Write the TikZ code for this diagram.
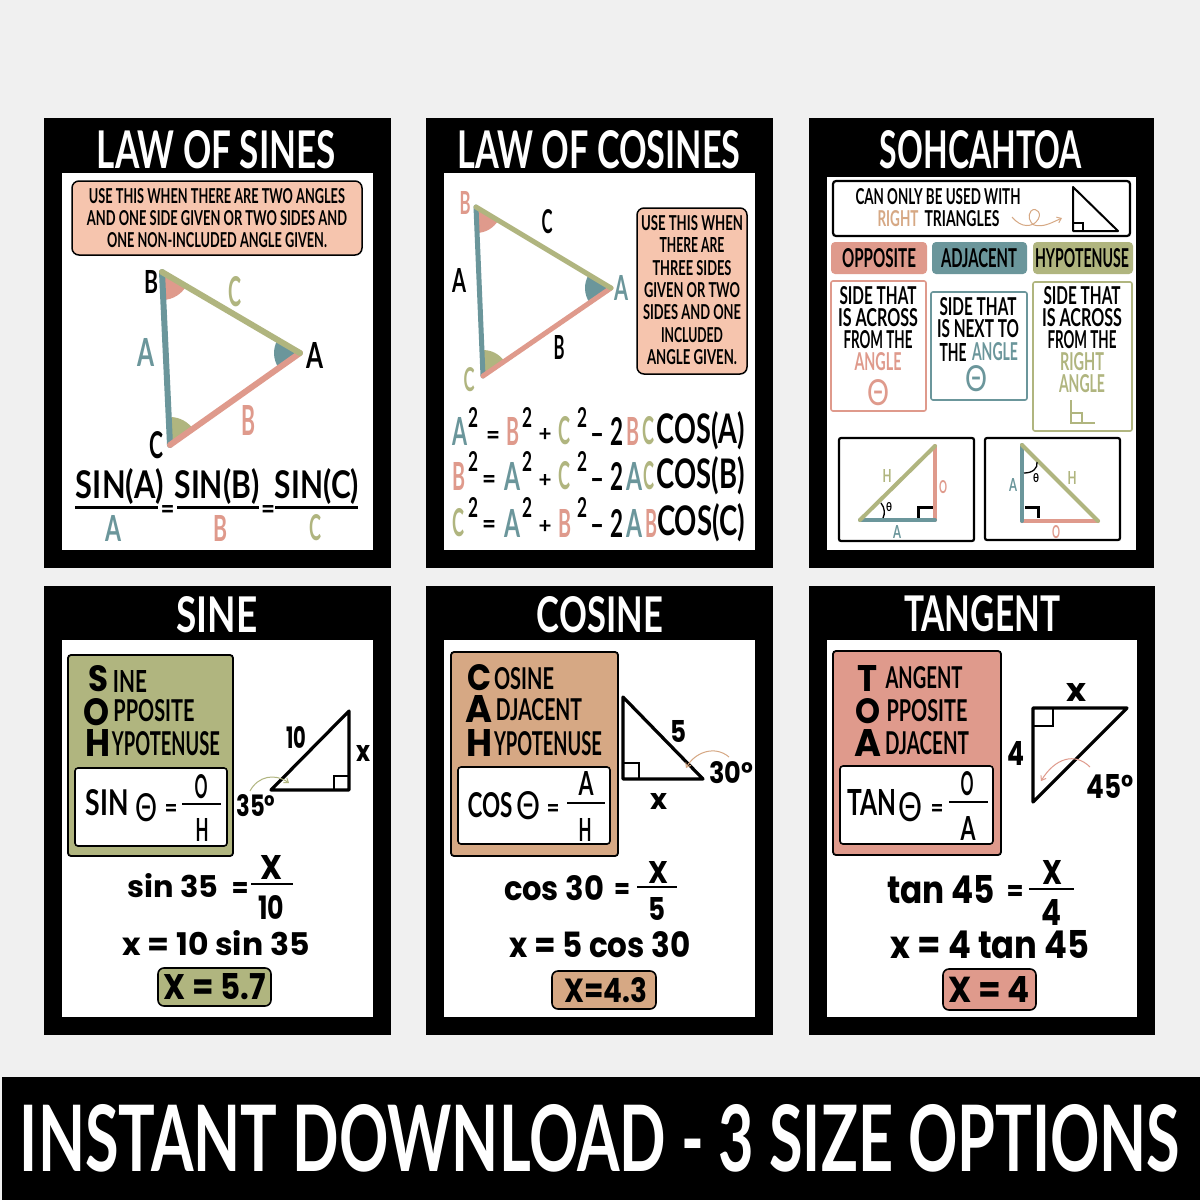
\documentclass[tikz,border=0pt]{standalone}
\usepackage{fontspec}
\usepackage{graphicx}
\usetikzlibrary{arrows.meta}
\setmainfont{Lato}
\newfontfamily\popf{Poppins}
\definecolor{teal1}{HTML}{6B969B}
\definecolor{rose1}{HTML}{DF9A8C}
\definecolor{olive1}{HTML}{B0B57F}
\definecolor{tan1}{HTML}{D6A884}
\definecolor{peach1}{HTML}{F6C5AE}
\definecolor{bgc}{HTML}{F0F0F0}
\tikzset{
  txt/.style={inner sep=0pt,outer sep=0pt,anchor=center},
  panel/.style={fill=black},
  sheet/.style={fill=white},
  callout/.style={draw=black,line width=1.5pt,rounded corners=7pt},
  framebox/.style={draw=black,line width=2.2pt,rounded corners=3pt},
  hdr/.style={rounded corners=4pt},
  outl/.style={line width=1.6pt,rounded corners=2pt,fill=white},
  card/.style={draw=black,line width=1.8pt,rounded corners=3pt},
  inner/.style={draw=black,line width=1.6pt,rounded corners=3pt,fill=white},
  pill/.style={draw=black,line width=1.6pt,rounded corners=6pt},
  side/.style={line width=#1,line cap=round},
  tri/.style={draw=black,line width=3.2pt,line join=round,line cap=round},
  frac/.style={draw=black,line width=2pt},
  swirl/.style={line width=1pt,-{Straight Barb[length=4pt,width=6pt]}},
}
\newcommand\Tx[7][black]{\node[txt,text=#1] (#2) at (#3,#4) {\resizebox{#5pt}{#6pt}{\bfseries #7}};}
\newcommand\Tb[7][black]{\node[txt,text=#1] (#2) at (#3,#4) {\resizebox{#5pt}{#6pt}{\bfseries #7}};}
\newcommand\Tp[7][black]{\node[txt,text=#1] (#2) at (#3,#4) {\resizebox{#5pt}{#6pt}{\popf\bfseries #7}};}
\newcommand\Wdg[5]{\fill[#5] (#1) -- ++(#2:#3) arc[start angle=#2,end angle=#4,radius=#3] -- cycle;}
\begin{document}
\begin{tikzpicture}[x=1pt,y=-1pt]
\useasboundingbox (0,0) rectangle (1200,1200);
\fill[bgc] (0,0) rectangle (1200,1200);
% black panels and white sheets
\fill[panel] (44,118) rectangle (391,568);
\fill[sheet] (62,173) rectangle (373,550);
\fill[panel] (426,118) rectangle (773,568);
\fill[sheet] (444,173) rectangle (755,550);
\fill[panel] (809,118) rectangle (1154,568);
\fill[sheet] (827,177) rectangle (1136,550);
\fill[panel] (44,586) rectangle (391,1035);
\fill[sheet] (62,640) rectangle (373,1017);
\fill[panel] (426,586) rectangle (773,1035);
\fill[sheet] (444,640) rectangle (755,1017);
\fill[panel] (809,586) rectangle (1155,1035);
\fill[sheet] (827,640) rectangle (1137,1017);
\fill[panel] (2,1077) rectangle (1200,1200);
\Tb[white]{banner}{600}{1138}{1160}{67}{INSTANT DOWNLOAD - 3 SIZE OPTIONS}
% titles
\Tb[white]{t1}{216.5}{150}{239}{38}{LAW OF SINES}
\Tb[white]{t2}{599}{150}{283}{38}{LAW OF COSINES}
\Tb[white]{t3}{981}{150}{202}{38}{SOHCAHTOA}
\Tb[white]{t4}{217}{615}{81}{36}{SINE}
\Tb[white]{t5}{600}{615}{126}{36}{COSINE}
\Tb[white]{t6}{982}{614}{156}{36}{TANGENT}

% ---------- LAW OF SINES
\draw[callout,fill=peach1] (72,181) rectangle (362,255);
\Tx{s1}{217}{196}{256}{15}{USE THIS WHEN THERE ARE TWO ANGLES}
\Tx{s2}{217}{218}{260}{15}{AND ONE SIDE GIVEN OR TWO SIDES AND}
\Tx{s3}{217}{240}{220}{15}{ONE NON-INCLUDED ANGLE GIVEN.}
\coordinate (sB) at (162,272);
\coordinate (sA) at (300,353);
\coordinate (sC) at (170,445);
\Wdg{sB}{30}{28}{87}{rose1}
\Wdg{sA}{145}{26}{210}{teal1}
\Wdg{sC}{273}{28}{325}{olive1}
\draw[side=6pt,teal1] (sB) -- (sC);
\draw[side=6pt,rose1] (sC) -- (sA);
\draw[side=6pt,olive1] (sA) -- (sB);
\Tb{sbB}{151}{282}{14}{23}{B}
\Tb{sbA}{315}{355}{17}{26}{A}
\Tb{sbC}{156}{445}{14}{27}{C}
\Tx[teal1]{scA}{146}{352}{17}{28}{A}
\Tx[olive1]{scC}{235}{292}{13}{30}{C}
\Tx[rose1]{scB}{248}{420}{14}{30}{B}
\Tx{sf1}{120}{487}{88}{30}{SIN(A)}
\Tx{sf2}{217}{487}{85}{30}{SIN(B)}
\Tx{sf3}{317}{487}{84}{30}{SIN(C)}
\coordinate (sl1a) at (75,507); \coordinate (sl1b) at (158,507);
\coordinate (sl2a) at (177,507); \coordinate (sl2b) at (259,507);
\coordinate (sl3a) at (275,507); \coordinate (sl3b) at (358,507);
\draw[frac,line width=3pt] (sl1a) -- (sl1b);
\draw[frac,line width=3pt] (sl2a) -- (sl2b);
\draw[frac,line width=3pt] (sl3a) -- (sl3b);
\Tb{seq1}{167.5}{512}{14}{13}{=}
\Tb{seq2}{268}{512}{14}{13}{=}
\Tx[teal1]{sd1}{114}{528}{16}{26}{A}
\Tx[rose1]{sd2}{220}{528}{14}{26}{B}
\Tx[olive1]{sd3}{315}{528}{12}{26}{C}

% ---------- LAW OF COSINES
\draw[callout,fill=peach1] (637,208) rectangle (747,374);
\Tx{c1}{692}{223}{102}{15}{USE THIS WHEN}
\Tx{c2}{692}{245}{65}{15}{THERE ARE}
\Tx{c3}{692}{268}{79}{15}{THREE SIDES}
\Tx{c4}{692}{290}{96}{15}{GIVEN OR TWO}
\Tx{c5}{692}{312}{98}{15}{SIDES AND ONE}
\Tx{c6}{692}{335}{62}{15}{INCLUDED}
\Tx{c7}{692}{357}{90}{15}{ANGLE GIVEN.}
\coordinate (cB) at (476,207);
\coordinate (cA) at (611,288);
\coordinate (cC) at (483,376);
\Wdg{cB}{31}{26}{88}{rose1}
\Wdg{cA}{145.5}{26}{211}{teal1}
\Wdg{cC}{267.6}{26}{325.5}{olive1}
\draw[side=5pt,teal1] (cB) -- (cC);
\draw[side=5pt,rose1] (cC) -- (cA);
\draw[side=5pt,olive1] (cA) -- (cB);
\Tx[rose1]{ccB}{465}{203}{11}{23}{B}
\Tx[teal1]{ccA}{621}{288}{14}{25}{A}
\Tx[olive1]{ccC}{469}{380}{11}{24}{C}
\Tb{cbA}{459}{280}{14}{24}{A}
\Tb{cbC}{547}{222}{11}{24}{C}
\Tb{cbB}{559}{347}{11}{24}{B}
% row 1
\Tx[teal1]{r1a}{460}{431}{15}{28}{A}
\Tx{r1b}{473}{417}{10}{20}{2}
\Tb{r1c}{493}{438}{14}{13}{=}
\Tx[rose1]{r1d}{513}{431}{13}{28}{B}
\Tx{r1e}{527}{417}{10}{20}{2}
\Tb{r1f}{545}{435}{13}{13}{+}
\Tx[olive1]{r1g}{564}{431}{12}{28}{C}
\Tx{r1h}{582}{417}{10}{20}{2}
\Tb{r1i}{597}{439}{14}{12}{–}
\Tx{r1j}{617}{431}{13}{28}{2}
\Tx[rose1]{r1k}{633}{431}{13}{28}{B}
\Tx[olive1]{r1l}{648}{431}{12}{28}{C}
\Tx{r1m}{701}{431}{88}{32}{COS(A)}
% row 2
\Tx[rose1]{r2a}{459}{476}{13}{28}{B}
\Tx{r2b}{473}{461}{10}{20}{2}
\Tb{r2c}{489}{482}{14}{13}{=}
\Tx[teal1]{r2d}{512}{476}{16}{28}{A}
\Tx{r2e}{527}{461}{10}{20}{2}
\Tb{r2f}{545}{481}{13}{13}{+}
\Tx[olive1]{r2g}{564}{476}{12}{28}{C}
\Tx{r2h}{582}{461}{10}{20}{2}
\Tb{r2i}{597}{484}{14}{12}{–}
\Tx{r2j}{617}{476}{13}{28}{2}
\Tx[teal1]{r2k}{634}{476}{16}{28}{A}
\Tx[olive1]{r2l}{649}{476}{11}{28}{C}
\Tx{r2m}{701}{476}{88}{32}{COS(B)}
% row 3
\Tx[olive1]{r3a}{458}{523}{12}{28}{C}
\Tx{r3b}{473}{507}{10}{20}{2}
\Tb{r3c}{489}{527}{14}{13}{=}
\Tx[teal1]{r3d}{512}{523}{16}{28}{A}
\Tx{r3e}{527}{507}{10}{20}{2}
\Tb{r3f}{545}{527}{13}{13}{+}
\Tx[rose1]{r3g}{565}{523}{13}{28}{B}
\Tx{r3h}{582}{507}{10}{20}{2}
\Tb{r3i}{597}{530}{14}{12}{–}
\Tx{r3j}{617}{523}{13}{28}{2}
\Tx[teal1]{r3k}{634}{523}{16}{28}{A}
\Tx[rose1]{r3l}{651}{523}{12}{28}{B}
\Tx{r3m}{701}{523}{88}{32}{COS(C)}

% ---------- SOHCAHTOA
\draw[framebox] (833,181) rectangle (1130,236);
\Tx{h1}{938}{197}{165}{16}{CAN ONLY BE USED WITH}
\Tx[tan1]{h2}{898}{219}{41}{16}{RIGHT}
\Tx{h3}{962}{219}{75}{16}{TRIANGLES}
\coordinate (k0) at (1012,217);
\coordinate (k1) at (1036,222);
\coordinate (k2) at (1034,225);
\coordinate (k3) at (1062,218);
\draw[swirl,tan1] (k0) .. controls (1022,229) and (1032,226) .. (k1)
  .. controls (1044,214) and (1036,206) .. (1031,211)
  .. controls (1027,216) and (1030,223) .. (k2)
  .. controls (1043,228) and (1053,222) .. (k3);
\coordinate (ka) at (1073,187); \coordinate (kb) at (1073,231); \coordinate (kc) at (1118,231);
\draw[tri,line width=2pt] (ka) -- (kb) -- (kc) -- cycle;
\draw[line width=1.5pt] (1073,223) -- (1083,223) -- (1083,231);
\fill[rose1,rounded corners=4pt] (831,242) rectangle (927,274);
\fill[teal1,rounded corners=4pt] (932,242) rectangle (1027,274);
\fill[olive1,rounded corners=4pt] (1033,242) rectangle (1133,274);
\Tx{h4}{879}{258}{74}{19}{OPPOSITE}
\Tx{h5}{979}{258}{76}{19}{ADJACENT}
\Tx{h6}{1082}{258}{94}{19}{HYPOTENUSE}
\draw[outl,draw=rose1] (831,281) rectangle (926,411);
\draw[outl,draw=teal1] (931,292) rectangle (1027,400);
\draw[outl,draw=olive1] (1033,282) rectangle (1132,431);
\Tx{o1}{878}{296}{77}{18}{SIDE THAT}
\Tx{o2}{878}{318}{80}{18}{IS ACROSS}
\Tx{o3}{878}{340}{69}{18}{FROM THE}
\Tx[rose1]{o4}{878}{362}{47}{18}{ANGLE}
\node[txt,text=rose1] (o5) at (878,393) {\resizebox{22pt}{26pt}{Θ}};
\Tx{a1}{978}{307}{77}{18}{SIDE THAT}
\Tx{a2}{978}{329}{82}{18}{IS NEXT TO}
\Tx{a3}{953}{352}{27}{18}{THE}
\Tx[teal1]{a4}{995}{352}{46}{18}{ANGLE}
\node[txt,text=teal1] (a5) at (976,379) {\resizebox{22pt}{26pt}{Θ}};
\Tx{y1}{1082}{296}{77}{18}{SIDE THAT}
\Tx{y2}{1082}{318}{80}{18}{IS ACROSS}
\Tx{y3}{1082}{340}{69}{18}{FROM THE}
\Tx[olive1]{y4}{1082}{362}{44}{18}{RIGHT}
\Tx[olive1]{y5}{1082}{384}{46}{18}{ANGLE}
\draw[olive1,line width=1.3pt] (1071,400) -- (1071,423) -- (1095,423);
\draw[olive1,line width=1.3pt] (1071,413) -- (1082,413) -- (1082,423);
% small frames
\draw[framebox,rounded corners=2pt] (839,438) rectangle (974,541);
\draw[framebox,rounded corners=2pt] (985,438) rectangle (1120,540);
\coordinate (lA) at (860,520); \coordinate (lB) at (935,520); \coordinate (lC) at (935,446);
\draw[line width=3pt] (918,518) -- (918,507) -- (933,507);
\draw[side=4pt,rose1] (lB) -- (lC);
\draw[side=4pt,teal1] (lA) -- (lB);
\draw[side=4pt,olive1] (lA) -- (lC);
\draw[line width=1.3pt] (881,503) .. controls (885,508) and (885,514) .. (883,518);
\Tx{lth}{889}{507}{6}{9}{θ}
\Tx[olive1]{lH}{887}{476}{9}{13}{H}
\Tx[rose1]{lO}{943}{487}{8}{13}{O}
\Tx[teal1]{lAt}{897}{532}{8}{13}{A}
\coordinate (mA) at (1022,445); \coordinate (mB) at (1022,521); \coordinate (mC) at (1098,521);
\draw[line width=3pt] (1025,507) -- (1038,507) -- (1038,518);
\draw[side=4pt,rose1] (mB) -- (mC);
\draw[side=4pt,teal1] (mA) -- (mB);
\draw[side=4pt,olive1] (mA) -- (mC);
\draw[line width=1.3pt] (1024,473) .. controls (1033,473) and (1038,468) .. (1037,462);
\Tx{mth}{1036}{478}{6}{9}{θ}
\Tx[teal1]{mAt}{1013}{485}{8}{13}{A}
\Tx[olive1]{mH}{1072}{478}{9}{13}{H}
\Tx[rose1]{mO}{1056}{532}{8}{13}{O}

% ---------- SINE
\draw[card,fill=olive1] (68,655) rectangle (233,856);
\Tp{sS}{99}{679}{20}{26}{S}
\Tp{sO}{97}{712}{26}{27}{O}
\Tp{sH}{98}{743}{25}{27}{H}
\Tx{sw1}{130}{681}{34}{22}{INE}
\Tx{sw2}{154}{711}{81}{22}{PPOSITE}
\Tx{sw3}{166}{744}{108}{24}{YPOTENUSE}
\draw[inner] (75,768) rectangle (227,846);
\Tx{sx1}{107}{803}{43}{26}{SIN}
\node[txt] (sx2) at (146,808) {\resizebox{22pt}{28pt}{Θ}};
\Tb{sx3}{171}{811}{13}{13}{=}
\coordinate (sxa) at (182,804); \coordinate (sxb) at (221,804);
\draw[frac] (sxa) -- (sxb);
\Tx{sxO}{201}{787}{13}{24}{O}
\Tx{sxH}{202}{830}{13}{23}{H}
\coordinate (p) at (271,790); \coordinate (q) at (349,790); \coordinate (r) at (349,711);
\draw[tri] (p) -- (q) -- (r) -- cycle;
\draw[line width=2.5pt] (334,790) -- (334,776) -- (349,776);
\Tp{s10}{296}{737}{20}{22}{10}
\Tp{sxx}{363}{753}{14}{16}{x}
\Tp{s35}{256}{806}{39}{22}{35°}
\coordinate (sar1) at (250,791); \coordinate (sar2) at (289,783);
\draw[swirl,olive1] (sar1) .. controls (258,776) and (275,773) .. (sar2);
\Tp{se1}{173}{886}{91}{24}{sin 35}
\Tp{se2}{240}{890}{17}{15}{=}
\coordinate (sea) at (251,884); \coordinate (seb) at (293,884);
\draw[frac,line width=2.5pt] (sea) -- (seb);
\Tp{se3}{272}{867}{22}{24}{X}
\Tp{se4}{271}{907}{26}{24}{10}
\Tp{se5}{216}{943}{187}{25}{x = 10 sin 35}
\draw[pill,fill=olive1] (158,968) rectangle (271,1006);
\Tp{se6}{215}{987}{102}{26}{X = 5.7}

% ---------- COSINE
\draw[card,fill=tan1] (451,652) rectangle (618,856);
\Tp{cS}{479}{678}{24}{26}{C}
\Tp{cO}{479}{709}{27}{27}{A}
\Tp{cH}{479}{743}{26}{27}{H}
\Tx{cw1}{524}{679}{60}{22}{OSINE}
\Tx{cw2}{539}{710}{86}{22}{DJACENT}
\Tx{cw3}{548}{744}{108}{24}{YPOTENUSE}
\draw[inner] (458,767) rectangle (610,844);
\Tx{cx1}{490}{805}{45}{25}{COS}
\node[txt] (cx2) at (528,806) {\resizebox{24pt}{28pt}{Θ}};
\Tb{cx3}{553}{811}{13}{13}{=}
\coordinate (cxa) at (567,803); \coordinate (cxb) at (605,803);
\draw[frac] (cxa) -- (cxb);
\Tx{cxA}{586}{783}{15}{24}{A}
\Tx{cxH}{585}{830}{13}{23}{H}
\coordinate (u) at (623,697); \coordinate (v) at (623,779); \coordinate (w) at (703,779);
\draw[tri] (u) -- (v) -- (w) -- cycle;
\draw[line width=2.5pt] (623,763) -- (639,763) -- (639,779);
\Tp{c5t}{678}{731}{16}{22}{5}
\Tp{cxx}{659}{801}{17}{16}{x}
\Tp{c30}{731}{773}{44}{22}{30°}
\coordinate (car1) at (729,757); \coordinate (car2) at (686,768);
\draw[swirl,tan1] (car1) .. controls (715,745) and (695,752) .. (car2);
\Tp{ce1}{554}{888}{100}{25}{cos 30}
\Tp{ce2}{622}{891}{16}{15}{=}
\coordinate (cea) at (637,887); \coordinate (ceb) at (677,887);
\draw[frac,line width=2.5pt] (cea) -- (ceb);
\Tp{ce3}{658}{872}{20}{22}{X}
\Tp{ce4}{657}{909}{17}{23}{5}
\Tp{ce5}{600}{945}{181}{26}{x = 5 cos 30}
\draw[pill,fill=tan1] (552,971) rectangle (656,1009);
\Tp{ce6}{606}{990}{83}{25}{X=4.3}

% ---------- TANGENT
\draw[card,fill=rose1] (833,651) rectangle (1001,855);
\Tp{tS}{867}{678}{20}{26}{T}
\Tp{tO}{868}{711}{25}{25}{O}
\Tp{tH}{868}{743}{27}{27}{A}
\Tx{tw1}{924}{678}{77}{22}{ANGENT}
\Tx{tw2}{927}{711}{81}{22}{PPOSITE}
\Tx{tw3}{927}{743}{84}{23}{DJACENT}
\draw[inner] (840,766) rectangle (993,844);
\Tx{tx1}{872}{802}{49}{26}{TAN}
\node[txt] (tx2) at (910,807) {\resizebox{24pt}{29pt}{Θ}};
\Tb{tx3}{937}{811}{13}{13}{=}
\coordinate (txa) at (949,802); \coordinate (txb) at (988,802);
\draw[frac] (txa) -- (txb);
\Tx{txO}{967}{784}{13}{24}{O}
\Tx{txA}{968}{828}{15}{24}{A}
\coordinate (e) at (1033,708); \coordinate (f) at (1127,708); \coordinate (g) at (1033,802);
\draw[tri] (e) -- (f) -- (g) -- cycle;
\draw[line width=2.5pt] (1033,726) -- (1053,726) -- (1053,708);
\Tp{txx}{1076}{692}{20}{18}{x}
\Tp{t4t}{1016}{753}{17}{24}{4}
\Tp{t45}{1110}{786}{47}{24}{45°}
\coordinate (tar1) at (1090,767); \coordinate (tar2) at (1041,781);
\draw[swirl,rose1] (tar1) .. controls (1075,752) and (1055,758) .. (tar2);
\Tp{te1}{941}{890}{108}{28}{tan 45}
\Tp{te2}{1015}{893}{17}{15}{=}
\coordinate (tea) at (1029,889); \coordinate (teb) at (1074,889);
\draw[frac,line width=2.5pt] (tea) -- (teb);
\Tp{te3}{1052}{872}{20}{24}{X}
\Tp{te4}{1051}{912}{20}{26}{4}
\Tp{te5}{990}{945}{199}{28}{x = 4 tan 45}
\draw[pill,fill=rose1] (943,969) rectangle (1036,1010);
\Tp{te6}{989}{989}{82}{26}{X = 4}
\end{tikzpicture}
\end{document}
